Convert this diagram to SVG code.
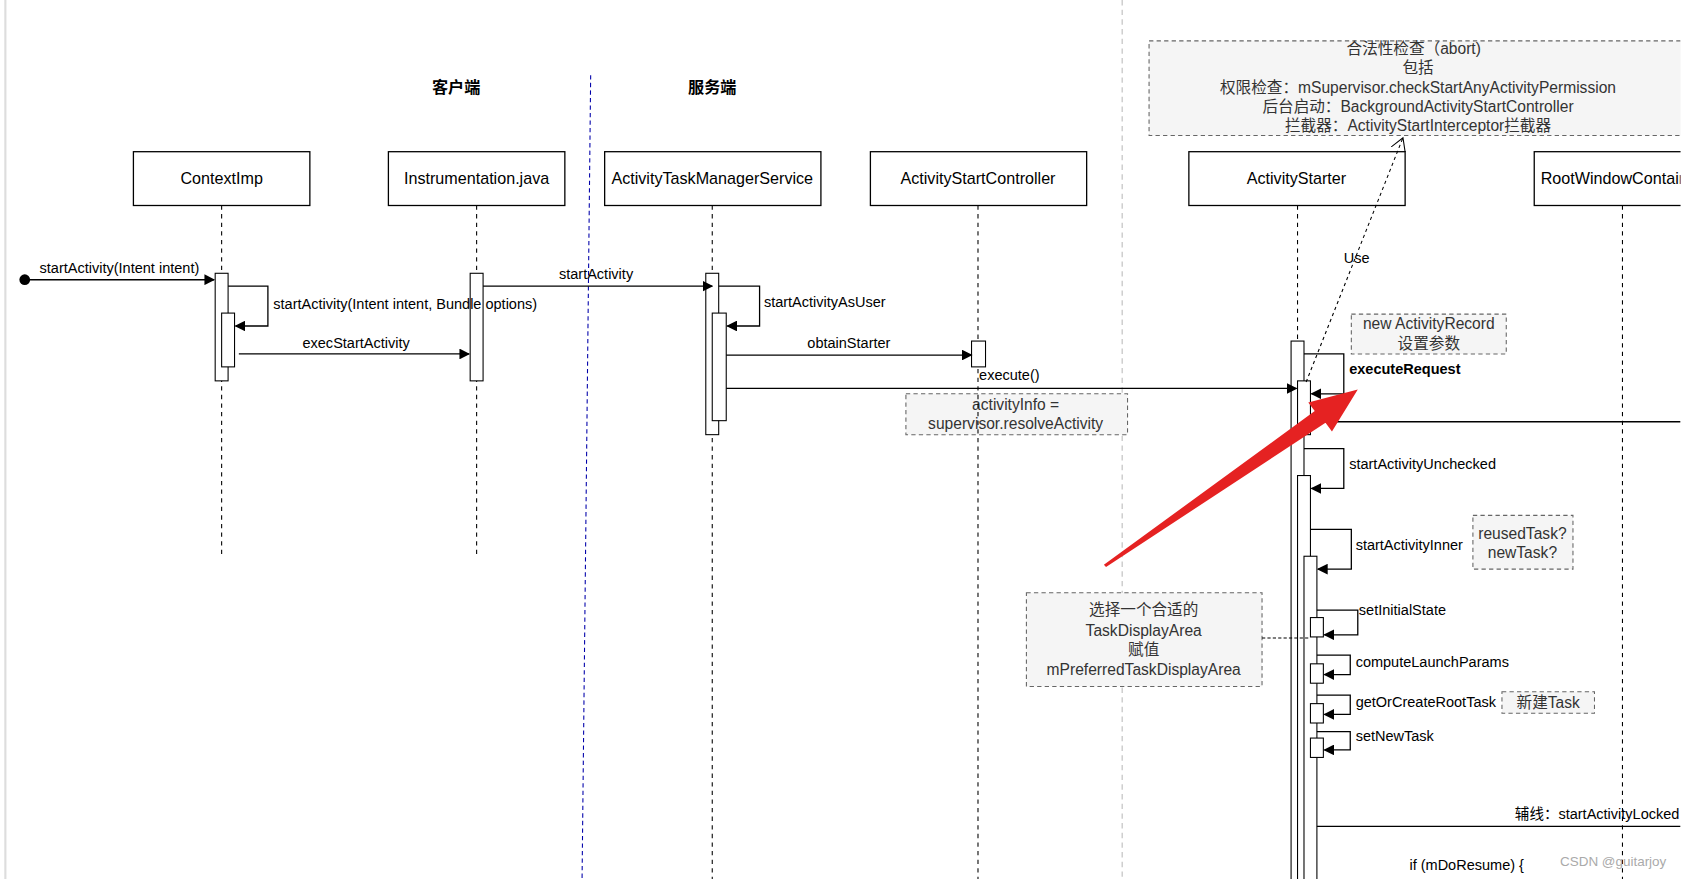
<svg xmlns="http://www.w3.org/2000/svg" width="1687" height="879" viewBox="0 0 1687 879">
<style>
text{font-family:"Liberation Sans","Noto Sans CJK SC",sans-serif;font-size:13.5px;fill:#000}
.c{text-anchor:middle}
.b{font-weight:bold}
.lbl{font-size:15px}
.box{fill:#fff;stroke:#000;stroke-width:1.2}
.act{fill:#fff;stroke:#000;stroke-width:1}
.life{stroke:#000;stroke-dasharray:4 4;fill:none}
.msg{stroke:#000;stroke-width:1.2;fill:none}
.note{fill:#f5f5f5;stroke:#666;stroke-dasharray:4 3}
.nt{fill:#333;font-size:14.5px}
</style>
<defs>
<marker id="ar" markerWidth="10" markerHeight="10" refX="9" refY="5" orient="auto" markerUnits="userSpaceOnUse"><path d="M0,0 L10,5 L0,10 z" fill="#000"/></marker>
<marker id="op" markerWidth="14" markerHeight="14" refX="12" refY="7" orient="auto" markerUnits="userSpaceOnUse"><path d="M0,0 L12,7 L0,14" fill="none" stroke="#000"/></marker>
<clipPath id="cl"><rect x="0" y="0" width="1562" height="817"/></clipPath>
</defs>
<rect width="1687" height="879" fill="#fff"/>
<g transform="scale(1.0759)">
<g clip-path="url(#cl)">
<line x1="5" y1="0" x2="5" y2="817" stroke="#ddd" stroke-width="2"/>
<line x1="1043" y1="0" x2="1043" y2="817" stroke="#bbb" stroke-dasharray="5 4"/>
<line x1="549" y1="70" x2="541" y2="817" stroke="#0000aa" stroke-dasharray="4 3"/>
<text class="c b lbl" x="424" y="86">客户端</text>
<text class="c b lbl" x="662" y="86">服务端</text>

<g id="notes">
<rect class="note" x="1068" y="38" width="500" height="88"/>
<text class="c nt" x="1314" y="50">合法性检查（abort)</text>
<text class="c nt" x="1318" y="68">包括</text>
<text class="c nt" x="1318" y="86">权限检查：mSupervisor.checkStartAnyActivityPermission</text>
<text class="c nt" x="1318" y="104">后台启动：BackgroundActivityStartController</text>
<text class="c nt" x="1318" y="122">拦截器：ActivityStartInterceptor拦截器</text>
<rect class="note" x="842" y="366" width="206" height="38"/>
<text class="c nt" x="944" y="381">activityInfo =</text>
<text class="c nt" x="944" y="399">supervisor.resolveActivity</text>
<rect class="note" x="1256" y="292" width="144" height="37"/>
<text class="c nt" x="1328" y="306">new ActivityRecord</text>
<text class="c nt" x="1328" y="324">设置参数</text>
<rect class="note" x="1369" y="479" width="93" height="50"/>
<text class="c nt" x="1415" y="501">reusedTask?</text>
<text class="c nt" x="1415" y="519">newTask?</text>
<rect class="note" x="1396" y="643" width="86" height="20"/>
<text class="c nt" x="1439" y="658">新建Task</text>
<rect class="note" x="954" y="551" width="219" height="87"/>
<text class="c nt" x="1063" y="572">选择一个合适的</text>
<text class="c nt" x="1063" y="591">TaskDisplayArea</text>
<text class="c nt" x="1063" y="609">赋值</text>
<text class="c nt" x="1063" y="627">mPreferredTaskDisplayArea</text>
</g>

<g id="n-contextimp"><rect class="box" x="124" y="141" width="164" height="50"/><text class="c lbl" x="206" y="171">ContextImp</text><line class="life" x1="206" y1="191" x2="206" y2="517"/></g>
<g id="n-instr"><rect class="box" x="361" y="141" width="164" height="50"/><text class="c lbl" x="443" y="171">Instrumentation.java</text><line class="life" x1="443" y1="191" x2="443" y2="517"/></g>
<g id="n-atms"><rect class="box" x="562" y="141" width="201" height="50"/><text class="c lbl" x="662" y="171">ActivityTaskManagerService</text><line class="life" x1="662" y1="191" x2="662" y2="817"/></g>
<g id="n-asc"><rect class="box" x="809" y="141" width="201" height="50"/><text class="c lbl" x="909" y="171">ActivityStartController</text><line class="life" x1="909" y1="191" x2="909" y2="817"/></g>
<g id="n-as"><rect class="box" x="1105" y="141" width="201" height="50"/><text class="c lbl" x="1205" y="171">ActivityStarter</text><line class="life" x1="1206" y1="191" x2="1206" y2="317"/></g>
<g id="n-rwc"><rect class="box" x="1426" y="141" width="150" height="50"/><text class="lbl" x="1432" y="171">RootWindowContainer</text><line class="life" x1="1508" y1="191" x2="1508" y2="817"/></g>

<g id="activations">
<rect class="act" x="200" y="254" width="12" height="100"/>
<rect class="act" x="206" y="291" width="12" height="50"/>
<rect class="act" x="437" y="254" width="12" height="100"/>
<rect class="act" x="656" y="254" width="12" height="150"/>
<rect class="act" x="662" y="291" width="13" height="100"/>
<rect class="act" x="903" y="317" width="13" height="24"/>
<rect class="act" x="1200" y="317" width="12" height="510"/>
<rect class="act" x="1206" y="354" width="12" height="50"/>
<rect class="act" x="1206" y="442" width="12" height="385"/>
<rect class="act" x="1212" y="517" width="12" height="310"/>
<rect class="act" x="1218" y="574" width="12" height="18"/>
<rect class="act" x="1218" y="617" width="12" height="18"/>
<rect class="act" x="1218" y="654" width="12" height="18"/>
<rect class="act" x="1218" y="686" width="12" height="18"/>
</g>

<g id="connectors">
<circle cx="23" cy="260" r="5" fill="#000"/>
<line class="msg" x1="23" y1="260" x2="199" y2="260" marker-end="url(#ar)"/>
<text class="c" x="111" y="254">startActivity(Intent intent)</text>
<path class="msg" d="M212,266 H249 V303 H219" marker-end="url(#ar)"/>
<text x="254" y="287">startActivity(Intent intent, Bundle options)</text>
<line class="msg" x1="222" y1="329" x2="436" y2="329" marker-end="url(#ar)"/>
<text class="c" x="331" y="323">execStartActivity</text>
<line class="msg" x1="449" y1="266" x2="662" y2="266" marker-end="url(#ar)"/>
<text class="c" x="554" y="259">startActivity</text>
<path class="msg" d="M668,266 H706 V303 H676" marker-end="url(#ar)"/>
<text x="710" y="285">startActivityAsUser</text>
<line class="msg" x1="675" y1="330" x2="903" y2="330" marker-end="url(#ar)"/>
<text class="c" x="789" y="323">obtainStarter</text>
<line class="msg" x1="675" y1="361" x2="1205" y2="361" marker-end="url(#ar)"/>
<text x="910" y="353">execute()</text>
<line x1="1214" y1="355" x2="1304" y2="128" stroke="#000" stroke-dasharray="3 3" marker-end="url(#op)"/>
<text class="c" x="1261" y="244">Use</text>
<path class="msg" d="M1212,329 H1249 V366 H1219" marker-end="url(#ar)"/>
<text class="b" x="1254" y="348">executeRequest</text>
<line class="msg" x1="1218" y1="392" x2="1562" y2="392"/>
<path class="msg" d="M1212,417 H1249 V454 H1219" marker-end="url(#ar)"/>
<text x="1254" y="436">startActivityUnchecked</text>
<path class="msg" d="M1218,492 H1256 V529 H1225" marker-end="url(#ar)"/>
<text x="1260" y="511">startActivityInner</text>
<path class="msg" d="M1224,567 H1262 V590 H1231" marker-end="url(#ar)"/>
<text x="1263" y="572">setInitialState</text>
<path class="msg" d="M1224,609 H1255 V627 H1231" marker-end="url(#ar)"/>
<text x="1260" y="620">computeLaunchParams</text>
<path class="msg" d="M1224,646 H1255 V664 H1231" marker-end="url(#ar)"/>
<text x="1260" y="657">getOrCreateRootTask</text>
<path class="msg" d="M1224,680 H1255 V697 H1231" marker-end="url(#ar)"/>
<text x="1260" y="689">setNewTask</text>
<line x1="1173" y1="593" x2="1218" y2="593" stroke="#000" stroke-dasharray="3 2"/>
<line class="msg" x1="1224" y1="768" x2="1562" y2="768"/>
<text x="1408" y="761">辅线：startActivityLocked</text>
<text x="1310" y="809">if (mDoResume) {</text>
</g>
<polygon points="1026,525 1222,382 1216,374 1262,362 1238,401 1232,393 1028,527" fill="#e52222"/>
<text x="1450" y="805" style="fill:#aaa;font-size:12.5px">CSDN @guitarjoy</text>
</g>
</g>
</svg>
